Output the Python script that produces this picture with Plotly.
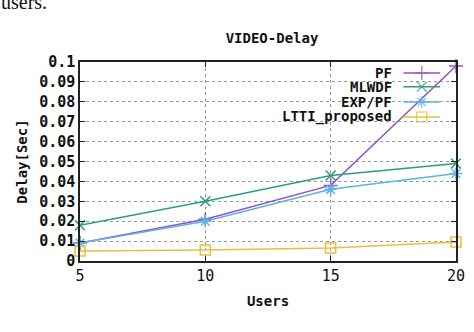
import plotly.graph_objects as go

users = [5, 10, 15, 20]
pf = [0.009, 0.021, 0.038, 0.098]
mlwdf = [0.018, 0.030, 0.043, 0.049]
exppf = [0.009, 0.020, 0.036, 0.044]
ltti = [0.005, 0.0055, 0.0065, 0.0095]

names = ["PF", "MLWDF", "EXP/PF", "LTTI_proposed"]
colors = ["#9b4fc0", "#2a9d80", "#5ab4e4", "#e6c040"]
symbols = ["cross-thin-open", "x-thin-open", "asterisk-open", "square-open"]
series = [pf, mlwdf, exppf, ltti]

yticks = [0, 0.01, 0.02, 0.03, 0.04, 0.05, 0.06, 0.07, 0.08, 0.09, 0.1]
ytext = ["0", "0.01", "0.02", "0.03", "0.04", "0.05", "0.06", "0.07", "0.08", "0.09", "0.1"]
xticks = [5, 10, 15, 20]

font_mono = "DejaVu Sans Mono"

fig = go.Figure()
for n, c, s, v in zip(names, colors, symbols, series):
    fig.add_trace(go.Scatter(x=users, y=v, mode="lines+markers", name=n,
                             line=dict(color=c, width=1.5),
                             marker=dict(symbol=s, size=10, color=c, line=dict(color=c, width=1.5)),
                             showlegend=False, cliponaxis=False))

# custom legend (gnuplot style: text left, sample right) on an overlay axis
leg_y = [0.945, 0.876, 0.799, 0.724]
for n, c, s, ly in zip(names, colors, symbols, leg_y):
    fig.add_trace(go.Scatter(x=[0.86, 0.909, 0.958], y=[ly, ly, ly], xaxis="x2", yaxis="y2",
                             mode="lines+markers", line=dict(color=c, width=1.5),
                             marker=dict(symbol=s, size=[0, 10, 0], color=c, line=dict(color=c, width=1.5)),
                             showlegend=False, hoverinfo="skip"))
    fig.add_annotation(xref="x2", yref="y2", x=0.835, y=ly, text="<b>%s</b>" % n,
                       showarrow=False, xanchor="right", yanchor="middle",
                       font=dict(family=font_mono, size=14, color="#111"))

fig.add_annotation(xref="paper", yref="paper", x=-0.215, y=1.235, text="users.",
                   showarrow=False, xanchor="left", yanchor="bottom",
                   font=dict(family="Liberation Serif", size=20, color="#111"))

fig.update_layout(
    width=474, height=332,
    margin=dict(l=80, r=9, t=62, b=71),
    paper_bgcolor="white", plot_bgcolor="white",
    title=dict(text="<b>VIDEO-Delay</b>", x=(272) / 474, xanchor="center", y=1 - 38 / 332, yanchor="middle",
               font=dict(family=font_mono, size=14, color="#111")),
    xaxis=dict(range=[5, 20], tickvals=xticks, ticks="inside", ticklen=5, tickcolor="#222",
               showline=True, linecolor="#222", linewidth=1.5, mirror="ticks",
               showgrid=True, gridcolor="#999", griddash="dot", gridwidth=1, zeroline=False,
               title=dict(text="<b>Users</b>", font=dict(family=font_mono, size=14, color="#111"), standoff=12),
               tickfont=dict(family=font_mono, size=15, color="#111")),
    yaxis=dict(range=[0, 0.1], tickvals=yticks, ticktext=["<b>%s</b>" % t for t in ytext],
               ticks="inside", ticklen=5, tickcolor="#222",
               showline=True, linecolor="#222", linewidth=1.5, mirror="ticks",
               showgrid=True, gridcolor="#999", griddash="dot", gridwidth=1, zeroline=False,
               title=dict(text="<b>Delay[Sec]</b>", font=dict(family=font_mono, size=14, color="#111"), standoff=8),
               tickfont=dict(family=font_mono, size=15, color="#111")),
    xaxis2=dict(overlaying="x", range=[0, 1], visible=False, fixedrange=True),
    yaxis2=dict(overlaying="y", range=[0, 1], visible=False, fixedrange=True),
)
fig.update_xaxes(tickprefix="<b>", ticksuffix="</b>", selector=dict(anchor="y"))

fig.write_html("out.html")
